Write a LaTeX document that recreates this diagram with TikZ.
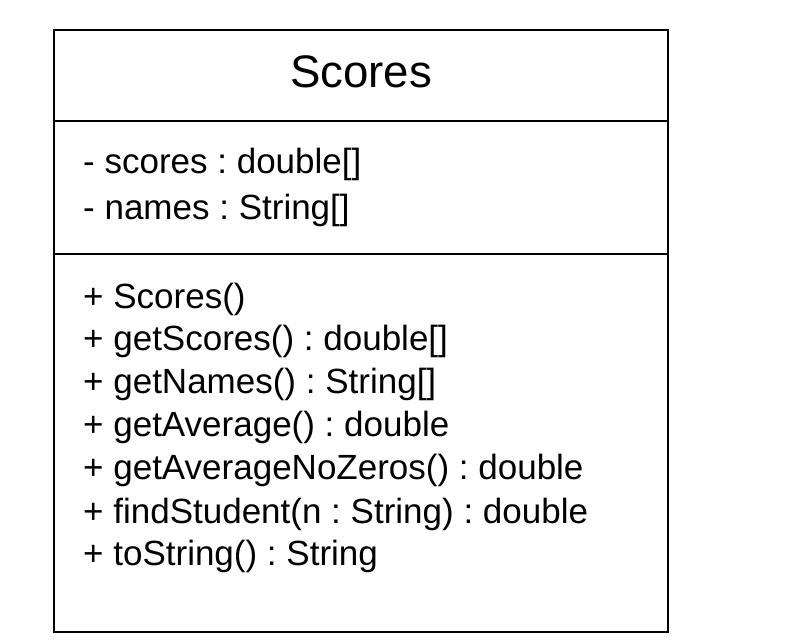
\documentclass[tikz,border=0pt]{standalone}
\usepackage{fontspec}
\setmainfont{Liberation Sans}
\begin{document}
\begin{tikzpicture}[x=1pt,y=-1pt,
  boxline/.style={line width=2pt, draw=black},
  member/.style={anchor=base west, inner sep=0pt, font=\fontsize{35}{42}\selectfont\frenchspacing},
  classname/.style={anchor=base, inner sep=0pt, font=\fontsize{45.6}{54}\selectfont}]
\useasboundingbox (0,0) rectangle (792,642);
\fill[white] (0,0) rectangle (792,642);
\node[boxline, rectangle, minimum width=614pt, minimum height=602pt, inner sep=0pt, anchor=north west] (box) at (53,29) {};
\coordinate (d1l) at (53,121); \coordinate (d1r) at (667,121);
\coordinate (d2l) at (53,254); \coordinate (d2r) at (667,254);
\draw[boxline] (d1l) -- (d1r);
\draw[boxline] (d2l) -- (d2r);
\node[classname] (title) at (361,88) {Scores};
\node[member] (a1) at (83,173) {- scores : double[]};
\node[member] (a2) at (83,219.5) {- names : String[]};
\node[member] (m1) at (83,308) {+ Scores()};
\node[member] (m2) at (83,350) {+ getScores() : double[]};
\node[member] (m3) at (83,393) {+ getNames() : String[]};
\node[member] (m4) at (83,436) {+ getAverage() : double};
\node[member] (m5) at (83,479) {+ getAverageNoZeros() : double};
\node[member] (m6) at (83,523) {+ findStudent(n : String) : double};
\node[member] (m7) at (83,565) {+ toString() : String};
\end{tikzpicture}
\end{document}
